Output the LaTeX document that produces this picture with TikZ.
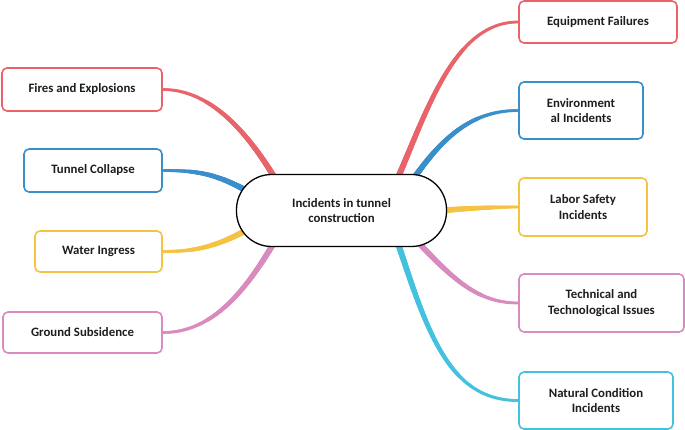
\documentclass[tikz,border=0pt]{standalone}
\usepackage{fontspec}
\setmainfont{Carlito}
\usetikzlibrary{decorations.markings,backgrounds}
\definecolor{cred}{HTML}{E8646A}
\definecolor{cblue}{HTML}{3A8FCB}
\definecolor{cyel}{HTML}{F5C342}
\definecolor{cpink}{HTML}{D98BC0}
\definecolor{ccyan}{HTML}{45C1E0}
\definecolor{txt}{HTML}{1E1E1E}
\tikzset{
  leaf/.style={draw=#1, line width=1.6pt, rounded corners=5pt, fill=white,
    align=center, font=\bfseries\fontsize{12.8}{15.5}\selectfont, text=txt, inner sep=0pt},
  hub/.style={draw=black, line width=1.3pt, rounded corners=35pt, fill=white,
    minimum width=210pt, minimum height=72pt, align=center,
    font=\bfseries\fontsize{12.8}{15.5}\selectfont, text=txt},
  branch/.style={postaction={decorate, decoration={markings,
    mark=between positions 0 and 1 step 0.8pt with {
      \pgfmathsetmacro\rr{3.1-1.6*\pgfkeysvalueof{/pgf/decoration/mark info/distance from start}/\pgfdecoratedpathlength}
      \fill[#1] (0,0) circle (\rr pt);}}}}
}
\begin{document}
\begin{tikzpicture}[x=1pt,y=-1pt]
\useasboundingbox (0,0) rectangle (685,430);
% leaves
\node[leaf=cred, minimum width=160pt, minimum height=43pt] (fire) at (82,89.5) {Fires and Explosions};
\node[leaf=cblue, minimum width=138pt, minimum height=43pt] (coll) at (93,170.5) {Tunnel Collapse};
\node[leaf=cyel, minimum width=127pt, minimum height=41pt] (water) at (98.5,251.5) {Water Ingress};
\node[leaf=cpink, minimum width=159pt, minimum height=41pt] (ground) at (82.5,332.5) {Ground Subsidence};
\node[leaf=cred, minimum width=158pt, minimum height=42pt] (equip) at (598,22) {Equipment Failures};
\node[leaf=cblue, minimum width=124pt, minimum height=57pt] (env) at (581,110.5) {Environment\\al Incidents};
\node[leaf=cyel, minimum width=128pt, minimum height=58pt] (labor) at (583,207) {Labor Safety\\Incidents};
\node[leaf=cpink, minimum width=165pt, minimum height=58pt] (tech) at (601.5,303) {Technical and\\Technological Issues};
\node[leaf=ccyan, minimum width=154pt, minimum height=57pt] (nat) at (596,400.5) {Natural Condition\\Incidents};
\node[hub] (hub) at (341.5,210.5) {Incidents in tunnel\\construction};
% connector anchors on the hub
\coordinate (h1) at (276,180);
\coordinate (h2) at (247,191);
\coordinate (h3) at (247,230);
\coordinate (h4) at (275,241);
\coordinate (h5) at (397,180);
\coordinate (h6) at (412,181);
\coordinate (h7) at (440,210.5);
\coordinate (h8) at (417,241);
\coordinate (h9) at (397,240);
% branches
\begin{scope}[on background layer]
\path[branch=cred] (h1) .. controls (245,128) and (208,89.5) .. (fire.east);
\path[branch=cblue] (h2) .. controls (215,173) and (195,170.5) .. (coll.east);
\path[branch=cyel] (h3) .. controls (215,247) and (195,251.5) .. (water.east);
\path[branch=cpink] (h4) .. controls (245,292) and (212,332.5) .. (ground.east);
\path[branch=cred] (h5) .. controls (428,108) and (455,22) .. (equip.west);
\path[branch=cblue] (h6) .. controls (445,133) and (475,110.5) .. (env.west);
\path[branch=cyel] (h7) .. controls (475,208) and (495,207) .. (labor.west);
\path[branch=cpink] (h8) .. controls (455,282) and (480,303) .. (tech.west);
\path[branch=ccyan] (h9) .. controls (428,335) and (450,400.5) .. (nat.west);
\end{scope}
\end{tikzpicture}
\end{document}
